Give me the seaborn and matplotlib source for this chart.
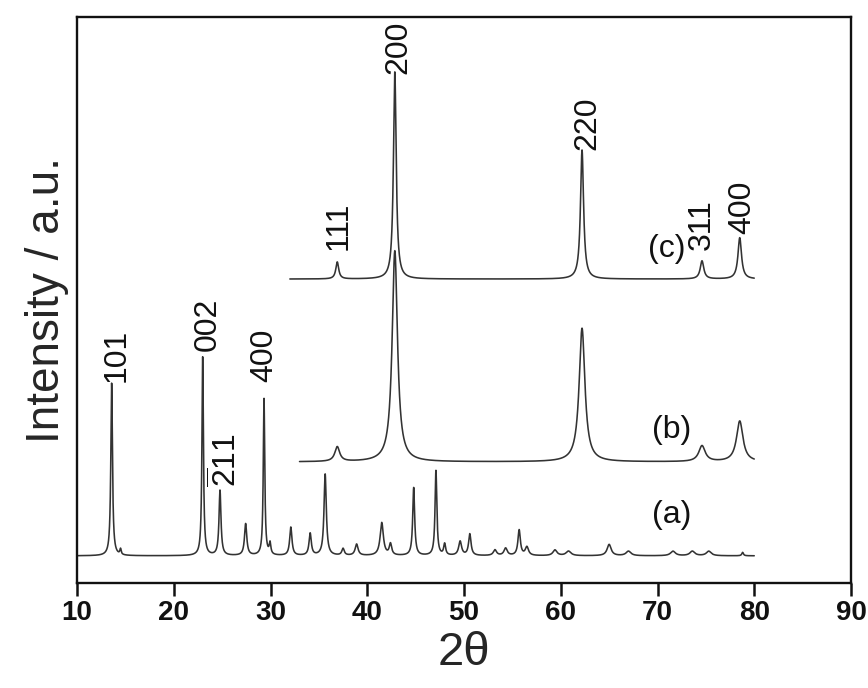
import numpy as np
import pandas as pd
import matplotlib
matplotlib.use("Agg")
import matplotlib.pyplot as plt
import seaborn as sns

# ---------------- data ----------------
# trace (a): peak positions (2theta), peak heights above baseline, half widths
a_pos = [13.58, 14.5, 22.99, 24.78, 27.43, 29.33, 29.95, 32.1, 34.1, 35.65, 37.5, 38.9,
         41.5, 42.4, 44.8, 47.1, 48.0, 49.6, 50.6, 53.2, 54.3, 55.7, 56.5, 59.4, 60.8,
         65.0, 67.0, 71.6, 73.6, 75.3, 78.8]
a_amp = [30.5, 1.0, 35.1, 11.5, 5.6, 27.7, 2.0, 5.0, 3.9, 14.4, 1.2, 2.0,
         5.8, 2.0, 12.0, 15.0, 2.0, 2.5, 3.8, 1.0, 1.3, 4.5, 1.5, 1.0, 0.8,
         2.0, 0.8, 0.8, 0.8, 0.8, 0.6]
a_wid = [0.10, 0.08, 0.09, 0.12, 0.14, 0.09, 0.10, 0.14, 0.14, 0.14, 0.15, 0.18,
         0.20, 0.15, 0.12, 0.11, 0.12, 0.18, 0.15, 0.2, 0.2, 0.15, 0.2, 0.25, 0.3,
         0.25, 0.3, 0.3, 0.3, 0.3, 0.1]
a_base = 4.8
a_range = (10.0, 80.0)

# trace (b)
b_pos = [36.9, 42.85, 62.2, 74.6, 78.5]
b_amp = [2.6, 37.3, 23.6, 2.8, 7.2]
b_wid = [0.30, 0.33, 0.36, 0.40, 0.40]
b_base = 21.4
b_range = (33.0, 80.0)

# trace (c)
c_pos = [36.9, 42.85, 62.2, 74.6, 78.5]
c_amp = [3.0, 36.6, 22.8, 3.2, 7.3]
c_wid = [0.18, 0.17, 0.19, 0.22, 0.22]
c_base = 53.7
c_range = (32.0, 80.0)

# reflection labels: text, 2theta, y (bottom of the rotated text)
hkl_text = ["101", "002", r"$\mathregular{\overline{2}11}$", "400", "111", "200", "220", "311", "400"]
hkl_x = [14.1, 23.5, 25.5, 29.4, 37.0, 43.2, 62.8, 74.6, 78.8]
hkl_y = [35.6, 41.0, 17.0, 35.6, 58.8, 90.0, 76.5, 58.8, 61.7]

trace_names = ["(a)", "(b)", "(c)"]
trace_lab_x = [71.5, 71.5, 71.0]
trace_lab_y = [12.0, 27.0, 59.0]

x_ticks = [10, 20, 30, 40, 50, 60, 70, 80, 90]


def profile(lo, hi, pos, amp, wid, base):
    x = np.arange(lo, hi + 1e-9, 0.01)
    y = np.full_like(x, base)
    for p, a, w in zip(pos, amp, wid):
        y += a / (1.0 + ((x - p) / w) ** 2)
    return x, y


frames = []
for name, rng, pos, amp, wid, base in [
    ("a", a_range, a_pos, a_amp, a_wid, a_base),
    ("b", b_range, b_pos, b_amp, b_wid, b_base),
    ("c", c_range, c_pos, c_amp, c_wid, c_base),
]:
    x, y = profile(rng[0], rng[1], pos, amp, wid, base)
    frames.append(pd.DataFrame({"two_theta": x, "intensity": y, "sample": name}))
df = pd.concat(frames, ignore_index=True)

# ---------------- drawing ----------------
sns.set_style("ticks")
plt.rcParams["font.family"] = ["Liberation Sans", "DejaVu Sans"]
plt.rcParams["mathtext.fontset"] = "custom"
plt.rcParams["mathtext.rm"] = "Liberation Sans"

fig = plt.figure(figsize=(8.68, 6.88), dpi=100)
ax = fig.add_axes([77 / 868, 1 - 583 / 688, (851 - 77) / 868, (583 - 17) / 688])

sns.lineplot(data=df, x="two_theta", y="intensity", units="sample", estimator=None,
             color="#333333", linewidth=1.15, ax=ax, sort=False)

ax.set_xlim(10, 90)
ax.set_ylim(0, 100)
ax.set_xticks(x_ticks)
ax.set_xticklabels([str(t) for t in x_ticks], fontsize=20, fontweight="bold")
ax.set_yticks([])
ax.tick_params(axis="x", direction="out", length=9, width=1.8, pad=3, colors="#111111")
for s in ax.spines.values():
    s.set_visible(True)
    s.set_linewidth(1.7)
    s.set_color("#111111")

ax.set_xlabel("2θ", fontsize=34, labelpad=4)
ax.set_ylabel("Intensity / a.u.", fontsize=33, labelpad=6)

for t, x, y in zip(hkl_text, hkl_x, hkl_y):
    ax.text(x, y, t, rotation=90, ha="center", va="bottom", fontsize=23, color="#111111",
            clip_on=False)

for t, x, y in zip(trace_names, trace_lab_x, trace_lab_y):
    ax.text(x, y, t, ha="center", va="center", fontsize=23, color="#111111")

fig.savefig("out.png", dpi=100)
